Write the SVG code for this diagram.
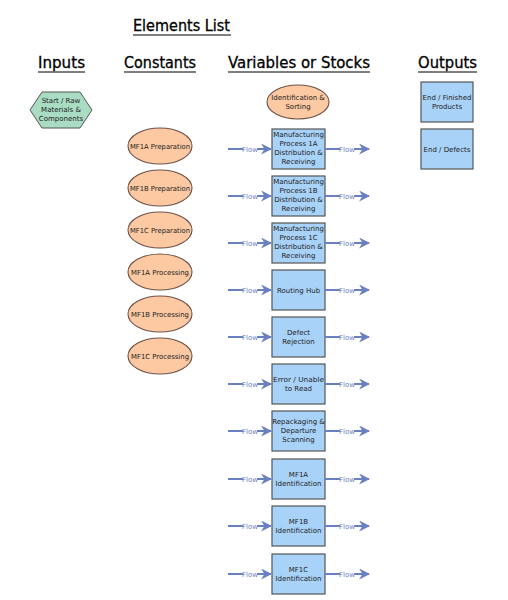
<svg xmlns="http://www.w3.org/2000/svg" width="508" height="600" viewBox="0 0 508 600">
<style>
.h{font-family:"DejaVu Sans",sans-serif;font-size:15px;fill:#000;stroke:#000;stroke-width:0.3}
.ul{stroke:#000;stroke-width:1.2}
.t{font-family:"DejaVu Sans",sans-serif;font-size:7px;fill:#222;text-anchor:middle}
.box{fill:#a9d2f8;stroke:#555;stroke-width:1.2}
.ell{fill:#fcc9a2;stroke:#6e5248;stroke-width:1.1}
.hex{fill:#a9dcc3;stroke:#555;stroke-width:1}
.fl{stroke:#6a80c0;stroke-width:2;fill:none}
.ft{font-family:"DejaVu Sans",sans-serif;font-size:7px;fill:#6a80c0;text-anchor:middle}
</style>
<defs>
<marker id="ah" viewBox="0 0 10 10" refX="9" refY="5" markerWidth="5.5" markerHeight="5.5" orient="auto" markerUnits="strokeWidth">
<path d="M0,0 L10,5 L0,10 L3,5 Z" fill="#6a80c0"/>
</marker>
</defs>
<rect width="508" height="600" fill="#fff"/>
<g id="headings">
<text class="h" x="133" y="31" textLength="97" lengthAdjust="spacingAndGlyphs">Elements List</text>
<line class="ul" x1="133" y1="35" x2="231" y2="35"/>
<text class="h" x="38" y="68" textLength="47" lengthAdjust="spacingAndGlyphs">Inputs</text>
<line class="ul" x1="38" y1="72" x2="85" y2="72"/>
<text class="h" x="124" y="68" textLength="72" lengthAdjust="spacingAndGlyphs">Constants</text>
<line class="ul" x1="124" y1="72" x2="196" y2="72"/>
<text class="h" x="228" y="68" textLength="142" lengthAdjust="spacingAndGlyphs">Variables or Stocks</text>
<line class="ul" x1="228" y1="72" x2="370" y2="72"/>
<text class="h" x="418" y="68" textLength="59" lengthAdjust="spacingAndGlyphs">Outputs</text>
<line class="ul" x1="418" y1="72" x2="477" y2="72"/>
</g>
<g id="start">
<polygon class="hex" points="30,110 42,92 80,92 92,110 80,128 42,128"/>
<text class="t" x="61" y="103">Start / Raw</text>
<text class="t" x="61" y="112">Materials &amp;</text>
<text class="t" x="61" y="121">Components</text>
</g>
<g id="c1"><ellipse class="ell" cx="160" cy="146" rx="32" ry="18"/><text class="t" x="160" y="148.5" textLength="60" lengthAdjust="spacingAndGlyphs">MF1A Preparation</text></g>
<g id="c2"><ellipse class="ell" cx="160" cy="188" rx="32" ry="18"/><text class="t" x="160" y="190.5" textLength="60" lengthAdjust="spacingAndGlyphs">MF1B Preparation</text></g>
<g id="c3"><ellipse class="ell" cx="160" cy="230" rx="32" ry="18"/><text class="t" x="160" y="232.5" textLength="60" lengthAdjust="spacingAndGlyphs">MF1C Preparation</text></g>
<g id="c4"><ellipse class="ell" cx="160" cy="272" rx="32" ry="18"/><text class="t" x="160" y="274.5" textLength="58" lengthAdjust="spacingAndGlyphs">MF1A Processing</text></g>
<g id="c5"><ellipse class="ell" cx="160" cy="314" rx="32" ry="18"/><text class="t" x="160" y="316.5" textLength="58" lengthAdjust="spacingAndGlyphs">MF1B Processing</text></g>
<g id="c6"><ellipse class="ell" cx="160" cy="356" rx="32" ry="18"/><text class="t" x="160" y="358.5" textLength="58" lengthAdjust="spacingAndGlyphs">MF1C Processing</text></g>
<g id="idsort"><ellipse class="ell" cx="298" cy="102" rx="31" ry="17"/><text class="t" x="298" y="100">Identification &amp;</text><text class="t" x="298" y="109">Sorting</text></g>
<g id="v1"><rect class="box" x="272" y="129" width="53" height="40"/>
<text class="t" x="298.5" y="137">Manufacturing</text><text class="t" x="298.5" y="146">Process 1A</text><text class="t" x="298.5" y="155">Distribution &amp;</text><text class="t" x="298.5" y="164">Receiving</text></g>
<g id="v2"><rect class="box" x="272" y="176" width="53" height="40"/>
<text class="t" x="298.5" y="184">Manufacturing</text><text class="t" x="298.5" y="193">Process 1B</text><text class="t" x="298.5" y="202">Distribution &amp;</text><text class="t" x="298.5" y="211">Receiving</text></g>
<g id="v3"><rect class="box" x="272" y="223" width="53" height="40"/>
<text class="t" x="298.5" y="231">Manufacturing</text><text class="t" x="298.5" y="240">Process 1C</text><text class="t" x="298.5" y="249">Distribution &amp;</text><text class="t" x="298.5" y="258">Receiving</text></g>
<g id="v4"><rect class="box" x="272" y="270" width="53" height="40"/>
<text class="t" x="298.5" y="292.5">Routing Hub</text></g>
<g id="v5"><rect class="box" x="272" y="317" width="53" height="40"/>
<text class="t" x="298.5" y="335">Defect</text><text class="t" x="298.5" y="344">Rejection</text></g>
<g id="v6"><rect class="box" x="272" y="364" width="53" height="40"/>
<text class="t" x="298.5" y="382" textLength="51" lengthAdjust="spacingAndGlyphs">Error / Unable</text><text class="t" x="298.5" y="391">to Read</text></g>
<g id="v7"><rect class="box" x="272" y="411" width="53" height="40"/>
<text class="t" x="298.5" y="424">Repackaging &amp;</text><text class="t" x="298.5" y="433">Departure</text><text class="t" x="298.5" y="442">Scanning</text></g>
<g id="v8"><rect class="box" x="272" y="459" width="53" height="40"/>
<text class="t" x="298.5" y="477">MF1A</text><text class="t" x="298.5" y="486">Identification</text></g>
<g id="v9"><rect class="box" x="272" y="506" width="53" height="40"/>
<text class="t" x="298.5" y="524">MF1B</text><text class="t" x="298.5" y="533">Identification</text></g>
<g id="v10"><rect class="box" x="272" y="554" width="53" height="40"/>
<text class="t" x="298.5" y="572">MF1C</text><text class="t" x="298.5" y="581">Identification</text></g>
<g id="o1"><rect class="box" x="421" y="82" width="52" height="40"/>
<text class="t" x="447" y="100">End / Finished</text><text class="t" x="447" y="109">Products</text></g>
<g id="o2"><rect class="box" x="421" y="129" width="52" height="40"/>
<text class="t" x="447" y="151.5">End / Defects</text></g>
<g id="connectors">
<g id="f1"><path class="fl" d="M228,149H243 M257,149H271" marker-end="url(#ah)"/><text class="ft" x="250" y="151.5">Flow</text><path class="fl" d="M325,149H340 M354,149H369" marker-end="url(#ah)"/><text class="ft" x="347" y="151.5">Flow</text></g>
<g id="f2"><path class="fl" d="M228,196H243 M257,196H271" marker-end="url(#ah)"/><text class="ft" x="250" y="198.5">Flow</text><path class="fl" d="M325,196H340 M354,196H369" marker-end="url(#ah)"/><text class="ft" x="347" y="198.5">Flow</text></g>
<g id="f3"><path class="fl" d="M228,243H243 M257,243H271" marker-end="url(#ah)"/><text class="ft" x="250" y="245.5">Flow</text><path class="fl" d="M325,243H340 M354,243H369" marker-end="url(#ah)"/><text class="ft" x="347" y="245.5">Flow</text></g>
<g id="f4"><path class="fl" d="M228,290H243 M257,290H271" marker-end="url(#ah)"/><text class="ft" x="250" y="292.5">Flow</text><path class="fl" d="M325,290H340 M354,290H369" marker-end="url(#ah)"/><text class="ft" x="347" y="292.5">Flow</text></g>
<g id="f5"><path class="fl" d="M228,337H243 M257,337H271" marker-end="url(#ah)"/><text class="ft" x="250" y="339.5">Flow</text><path class="fl" d="M325,337H340 M354,337H369" marker-end="url(#ah)"/><text class="ft" x="347" y="339.5">Flow</text></g>
<g id="f6"><path class="fl" d="M228,384H243 M257,384H271" marker-end="url(#ah)"/><text class="ft" x="250" y="386.5">Flow</text><path class="fl" d="M325,384H340 M354,384H369" marker-end="url(#ah)"/><text class="ft" x="347" y="386.5">Flow</text></g>
<g id="f7"><path class="fl" d="M228,431H243 M257,431H271" marker-end="url(#ah)"/><text class="ft" x="250" y="433.5">Flow</text><path class="fl" d="M325,431H340 M354,431H369" marker-end="url(#ah)"/><text class="ft" x="347" y="433.5">Flow</text></g>
<g id="f8"><path class="fl" d="M228,479H243 M257,479H271" marker-end="url(#ah)"/><text class="ft" x="250" y="481.5">Flow</text><path class="fl" d="M325,479H340 M354,479H369" marker-end="url(#ah)"/><text class="ft" x="347" y="481.5">Flow</text></g>
<g id="f9"><path class="fl" d="M228,526H243 M257,526H271" marker-end="url(#ah)"/><text class="ft" x="250" y="528.5">Flow</text><path class="fl" d="M325,526H340 M354,526H369" marker-end="url(#ah)"/><text class="ft" x="347" y="528.5">Flow</text></g>
<g id="f10"><path class="fl" d="M228,574H243 M257,574H271" marker-end="url(#ah)"/><text class="ft" x="250" y="576.5">Flow</text><path class="fl" d="M325,574H340 M354,574H369" marker-end="url(#ah)"/><text class="ft" x="347" y="576.5">Flow</text></g>
</g>
</svg>
